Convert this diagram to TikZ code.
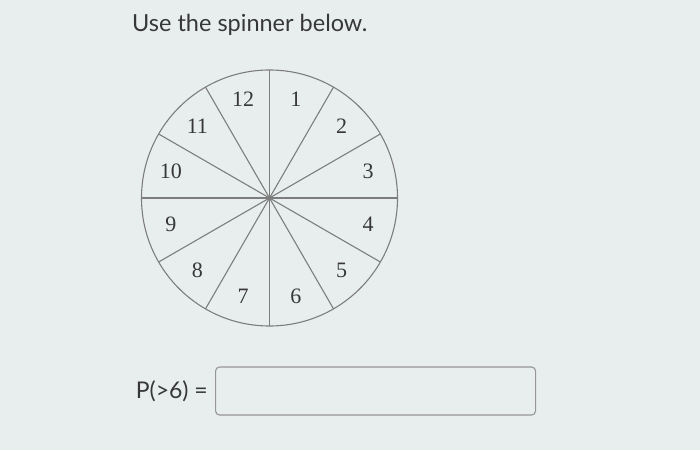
\documentclass[tikz,border=0pt]{standalone}
\usepackage{fontspec}
\setmainfont{Liberation Serif}
\newfontfamily\uifont{Lato}
\definecolor{bgcol}{RGB}{232,238,238}
\definecolor{inkgray}{RGB}{55,55,55}
\definecolor{linegray}{RGB}{125,125,125}
\definecolor{boxgray}{RGB}{150,150,150}
\begin{document}
\begin{tikzpicture}[x=1pt,y=1pt,
    spoke/.style={draw=linegray,line width=1.1pt},
    num/.style={font=\fontsize{22}{25}\selectfont,text=inkgray,inner sep=0pt},
    ui/.style={font=\uifont\fontsize{23.5}{27}\selectfont,text=inkgray,inner sep=0pt}]
  \fill[bgcol] (0,0) rectangle (700,450);
  \useasboundingbox (0,0) rectangle (700,450);
  % title
  \node[ui,anchor=base west] (title) at (132,418) {Use the spinner below.};
  % spinner
  \coordinate (c) at (269.5,252);
  \draw[spoke] (c) circle (128);
  \foreach \a in {0,30,...,330}
    \draw[spoke] (c) -- ++(\a:128);
  \foreach \n in {1,...,12}
    \path (c) ++ ({105-30*\n}:102) node[num] (n\n) {\n};
  % answer
  \node[draw=boxgray,line width=1.1pt,rounded corners=4pt,
        minimum width=320pt,minimum height=48pt,anchor=west] (answer) at (215,59) {};
  \node[ui,font=\uifont\fontsize{23}{27}\selectfont,anchor=east] (prob) at (208,59) {P(>6) =};
\end{tikzpicture}
\end{document}
